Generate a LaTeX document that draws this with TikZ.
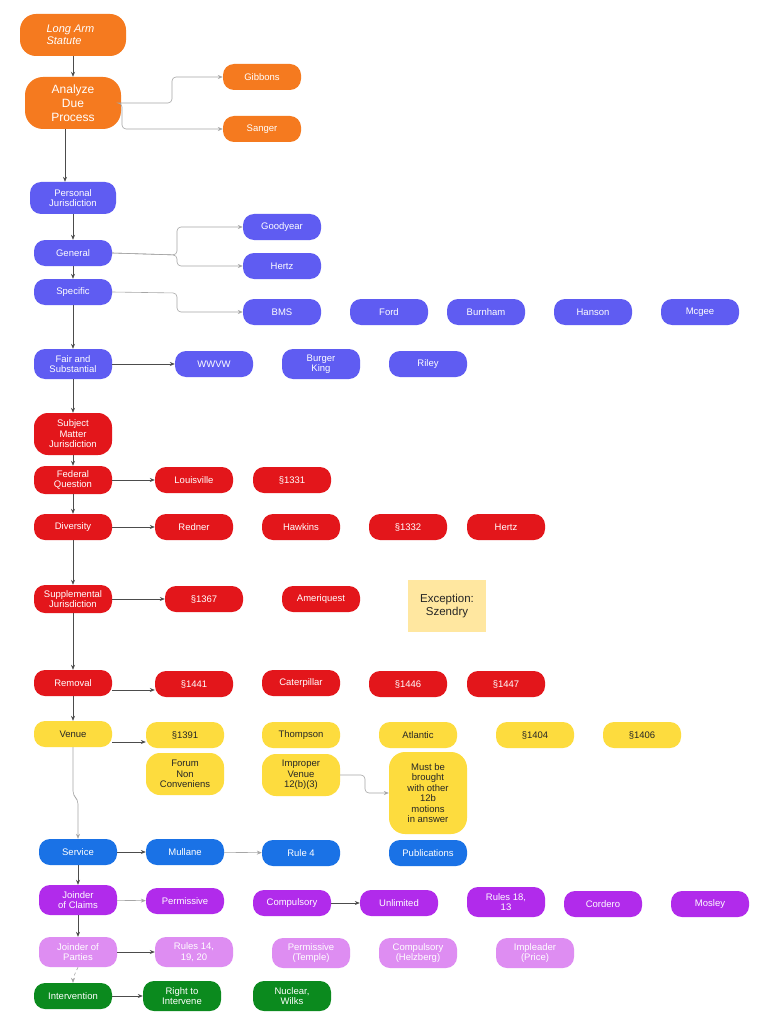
\documentclass[tikz,border=0pt]{standalone}
\usepackage{fontspec}
\setmainfont{Liberation Sans}
\usetikzlibrary{arrows.meta}
\definecolor{cor}{HTML}{F57A1F}
\definecolor{cpj}{HTML}{5F5CF2}
\definecolor{cred}{HTML}{E3161B}
\definecolor{cyel}{HTML}{FDDC3E}
\definecolor{cblu}{HTML}{1A72E6}
\definecolor{cpur}{HTML}{B12BEB}
\definecolor{clp}{HTML}{DE8DF2}
\definecolor{cgr}{HTML}{0B8A1E}
\definecolor{cnote}{HTML}{FFE7A0}
\tikzset{
 bx/.style={rounded corners=11pt,minimum width=78pt,minimum height=26pt,inner sep=1pt,align=center,font=\fontsize{9.5}{10.5}\selectfont,text=white},
 orn/.style={bx,fill=cor},
 pjn/.style={bx,fill=cpj},
 rdn/.style={bx,fill=cred},
 yln/.style={bx,fill=cyel,text=black!85},
 bln/.style={bx,fill=cblu},
 ppn/.style={bx,fill=cpur},
 lpn/.style={bx,fill=clp},
 grn/.style={bx,fill=cgr},
 ar/.style={draw=black!70,line width=0.6pt,-{Stealth[length=5pt,width=4pt]}},
 arl/.style={draw=black!35,line width=0.6pt,-{Stealth[length=5pt,width=4pt]},rounded corners=4pt},
}
\begin{document}
\begin{tikzpicture}[x=1pt,y=-1pt]
\useasboundingbox[fill=white] (0,0) rectangle (768,1024);
% orange
\node[orn,minimum width=106pt,minimum height=42pt,rounded corners=16pt,align=left,font=\itshape\fontsize{11}{12}\selectfont] (las) at (73,35) {Long Arm\\Statute\hspace*{18pt}};
\node[orn,minimum width=96pt,minimum height=52pt,rounded corners=18pt,font=\fontsize{12}{14}\selectfont] (adp) at (73,103) {Analyze\\Due\\Process};
\node[orn] (gib) at (262,77) {Gibbons};
\node[orn] (san) at (262,129) {Sanger};
% personal jurisdiction
\node[pjn,minimum width=86pt,minimum height=32pt] (pj) at (73,198) {Personal\\Jurisdiction};
\node[pjn] (gen) at (73,253) {General};
\node[pjn] (spe) at (73,292) {Specific};
\node[pjn] (goo) at (282,227) {Goodyear};
\node[pjn] (her) at (282,266) {Hertz};
\node[pjn] (bms) at (282,312) {BMS};
\node[pjn] (for) at (389,312) {Ford};
\node[pjn] (bur) at (486,312) {Burnham};
\node[pjn] (han) at (593,312) {Hanson};
\node[pjn] (mcg) at (700,312) {Mcgee};
\node[pjn,minimum height=30pt] (fas) at (73,364) {Fair and\\Substantial};
\node[pjn] (wwv) at (214,364) {WWVW};
\node[pjn,minimum height=30pt] (bk) at (321,364) {Burger\\King};
\node[pjn] (ril) at (428,364) {Riley};
% red
\node[rdn,minimum height=42pt,rounded corners=14pt] (smj) at (73,434) {Subject\\Matter\\Jurisdiction};
\node[rdn,minimum height=28pt] (fq) at (73,480) {Federal\\Question};
\node[rdn] (lou) at (194,480) {Louisville};
\node[rdn] (s1331) at (292,480) {§1331};
\node[rdn] (div) at (73,527) {Diversity};
\node[rdn] (red) at (194,527) {Redner};
\node[rdn] (haw) at (301,527) {Hawkins};
\node[rdn] (s1332) at (408,527) {§1332};
\node[rdn] (her2) at (506,527) {Hertz};
\node[rdn,minimum height=28pt] (sup) at (73,599) {Supplemental\\Jurisdiction};
\node[rdn] (s1367) at (204,599) {§1367};
\node[rdn] (ame) at (321,599) {Ameriquest};
\node[fill=cnote,minimum width=78pt,minimum height=52pt,align=center,font=\fontsize{11.5}{12.5}\selectfont,text=black!85] (exc) at (447,606) {Exception:\\Szendry};
\node[rdn] (rem) at (73,683) {Removal};
\node[rdn] (s1441) at (194,684) {§1441};
\node[rdn] (cat) at (301,683) {Caterpillar};
\node[rdn] (s1446) at (408,684) {§1446};
\node[rdn] (s1447) at (506,684) {§1447};
% yellow
\node[yln] (ven) at (73,734) {Venue};
\node[yln] (s1391) at (185,735) {§1391};
\node[yln] (tho) at (301,735) {Thompson};
\node[yln] (atl) at (418,735) {Atlantic};
\node[yln] (s1404) at (535,735) {§1404};
\node[yln] (s1406) at (642,735) {§1406};
\node[yln,minimum height=42pt,rounded corners=14pt] (fnc) at (185,774) {Forum\\Non\\Conveniens};
\node[yln,minimum height=42pt,rounded corners=14pt] (imp) at (301,775) {Improper\\Venue\\12(b)(3)};
\node[yln,minimum height=82pt,rounded corners=16pt] (mus) at (428,793) {Must be\\brought\\with other\\12b\\motions\\in answer};
% blue
\node[bln] (ser) at (78,852) {Service};
\node[bln] (mul) at (185,852) {Mullane};
\node[bln] (r4) at (301,853) {Rule 4};
\node[bln] (pub) at (428,853) {Publications};
% purple
\node[ppn,minimum height=30pt] (joc) at (78,900) {Joinder\\of Claims};
\node[ppn] (per) at (185,901) {Permissive};
\node[ppn] (com) at (292,903) {Compulsory};
\node[ppn] (unl) at (399,903) {Unlimited};
\node[ppn,minimum height=30pt] (r18) at (506,902) {Rules 18,\\13};
\node[ppn] (cor) at (603,904) {Cordero};
\node[ppn] (mos) at (710,904) {Mosley};
% light purple
\node[lpn,minimum height=30pt] (jop) at (78,952) {Joinder of\\Parties};
\node[lpn,minimum height=30pt] (r14) at (194,952) {Rules 14,\\19, 20};
\node[lpn,minimum height=30pt] (pt) at (311,953) {Permissive\\(Temple)};
\node[lpn,minimum height=30pt] (ch) at (418,953) {Compulsory\\(Helzberg)};
\node[lpn,minimum height=30pt] (ip) at (535,953) {Impleader\\(Price)};
% green
\node[grn] (int) at (73,996) {Intervention};
\node[grn,minimum height=30pt] (rti) at (182,996) {Right to\\Intervene};
\node[grn,minimum height=30pt] (nw) at (292,996) {Nuclear,\\Wilks};
% edges
\draw[ar] (las) -- (adp);
\draw[arl] (adp.east) -- (172,103) |- (gib.west);
\draw[arl] (adp.east) -- (122,103) |- (san.west);
\draw[ar] (adp.south -| 65,0) -- (pj.north -| 65,0);
\draw[ar] (pj) -- (gen);
\draw[arl] (gen.east) -- (177,255) |- (goo.west);
\draw[arl] (gen.east) -- (177,255) |- (her.west);
\draw[ar] (gen) -- (spe);
\draw[arl] (spe.east) -- (177,293) |- (bms.west);
\draw[ar] (spe) -- (fas);
\draw[ar] (fas) -- (wwv);
\draw[ar] (fas) -- (smj);
\draw[ar] (smj) -- (fq);
\draw[ar] (fq) -- (lou);
\draw[ar] (fq) -- (div);
\draw[ar] (div) -- (red);
\draw[ar] (div) -- (sup);
\draw[ar] (sup) -- (s1367);
\draw[ar] (sup) -- (rem);
\draw[ar] (rem.east |- 0,690) -- (s1441.west |- 0,690);
\draw[ar] (rem) -- (ven);
\draw[ar] (ven.east |- 0,742) -- (s1391.west |- 0,742);
\draw[arl] (ven.south) -- (73,795) -- (78,800) -- (ser.north);
\draw[arl] (imp.east) -- (365,775) |- (mus.west);
\draw[ar] (ser) -- (mul);
\draw[arl] (mul) -- (r4);
\draw[ar] (ser) -- (joc);
\draw[arl] (joc) -- (per);
\draw[ar] (com) -- (unl);
\draw[ar] (joc) -- (jop);
\draw[ar] (jop) -- (r14);
\draw[arl,dashed] (jop.south) -- (73,978) -- (int.north);
\draw[ar] (int) -- (rti);
\end{tikzpicture}
\end{document}
